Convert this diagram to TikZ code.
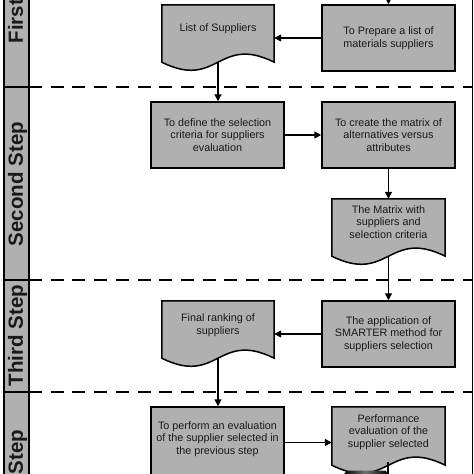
\documentclass[tikz,border=0pt]{standalone}
\usepackage{fontspec}
\setmainfont{Liberation Sans}
\usetikzlibrary{arrows.meta,calc}
\pgfdeclarelayer{bg}
\pgfsetlayers{bg,main}
\definecolor{boxgray}{RGB}{176,176,176}
\definecolor{txt}{RGB}{25,25,25}
\newcommand\drawdocshape[1]{%
  \begin{pgfonlayer}{bg}
  \filldraw[fill=boxgray, line width=1.5pt, line join=miter]
    (#1.north west) -- (#1.north east) -- (#1.south east)
    .. controls ($(#1.south)+(0,-28)$) and ($(#1.south)+(0,28)$) .. (#1.south west) -- cycle;
  \end{pgfonlayer}}
\tikzset{
  boxfont/.style={font=\fontsize{10.8}{12.6}\selectfont, text=txt},
  procbox/.style={draw, line width=1.5pt, fill=boxgray, minimum width=133pt, minimum height=66pt,
    align=center, inner sep=2pt, boxfont},
  docbox/.style={minimum width=112pt, minimum height=57pt, align=center, inner sep=2pt,
    text depth=11pt, boxfont},
  arr/.style={line width=1.3pt, -{Triangle[length=7pt,width=7pt]}},
  lanelabel/.style={rotate=90, anchor=base, font=\fontsize{20.5}{24}\bfseries\selectfont, text=txt},
  lanedash/.style={line width=1.6pt, dash pattern=on 13pt off 8.7pt},
  frame/.style={line width=1.5pt},
}
\begin{document}
\begin{tikzpicture}[x=1pt, y=-1pt]
\useasboundingbox (0,0) rectangle (474,474);
% lane bar
\fill[boxgray] (4,-10) rectangle (29,484);
\draw[frame] (4,-10) -- (4,484);
\draw[frame] (29,-10) -- (29,484);
\draw[frame] (472.5,-10) -- (472.5,484);
\foreach \yy in {87,280,392}{
  \draw[frame] (4,\yy) -- (29,\yy);
  \draw[lanedash] (29,\yy) -- (472,\yy);
}
\node[lanelabel] (l1) at (23,-4) {First Step};
\node[lanelabel] (l2) at (23,184) {Second Step};
\node[lanelabel] (l3) at (23,335.5) {Third Step};
\node[lanelabel] (l4) at (23,487.5) {Fourth Step};

% nodes
\node[procbox] (prep) at (388.5,38) {To Prepare a list of\\materials suppliers};
\node[docbox] (list) at (218,33.5) {List of Suppliers};
\node[procbox] (define) at (217.5,135) {To define the selection\\criteria for suppliers\\evaluation};
\node[procbox] (create) at (388.5,135) {To create the matrix of\\alternatives versus\\attributes};
\node[docbox, minimum width=113pt] (matrix) at (388.5,227.5) {The Matrix with\\suppliers and\\selection criteria};
\node[procbox] (smarter) at (388.5,334) {The application of\\SMARTER method for\\suppliers selection};
\node[docbox, text depth=10.5pt] (final) at (218,329.5) {Final ranking of\\suppliers};
\node[procbox, minimum height=71pt, text depth=9.5pt] (perform) at (217.5,442.5) {To perform an evaluation\\of the supplier selected in\\the previous step};
\node[docbox, minimum width=113pt, minimum height=58pt, text depth=10.5pt] (perf) at (388.5,436) {Performance\\evaluation of the\\supplier selected};

\drawdocshape{list}
\drawdocshape{matrix}
\drawdocshape{final}
\drawdocshape{perf}

% partial shape at the bottom
\shade[left color=black, right color=black, middle color=black!55]
  (343,476) .. controls (345,471) and (348,470.5) .. (352,470.5) -- (386,470.5) -- (388,476) -- cycle;

% connectors
\coordinate (topin) at (388.5,-10);
\coordinate (botout) at (388,478);
\draw[arr] (topin) -- (prep.north);
\draw[arr] (prep.west) -- (prep.west -| list.east);
\draw[arr] (list.south) -- (list.south |- define.north);
\draw[arr] (define.east) -- (create.west);
\draw[arr] (create.south) -- (matrix.north);
\draw[arr] (matrix.south) -- (smarter.north);
\draw[arr] (smarter.west) -- (smarter.west -| final.east);
\draw[arr] (final.south) -- (final.south |- perform.north);
\draw[arr] (perform.east) -- (perform.east -| perf.west);
\draw[line width=1.3pt] (perf.south -| botout) ++(0,-3) -- (botout);
\end{tikzpicture}
\end{document}
